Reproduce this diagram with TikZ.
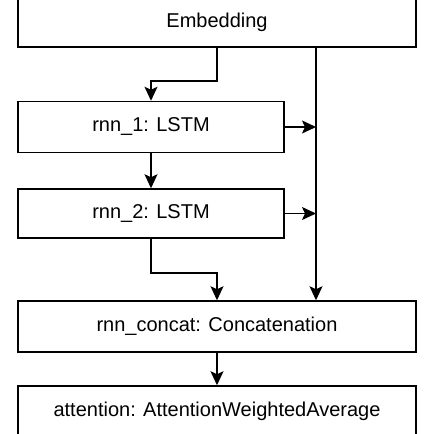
\documentclass[tikz,border=0pt]{standalone}
\usepackage{fontspec}
\setmainfont{Liberation Sans}
\usetikzlibrary{arrows.meta}

\tikzset{
  layer/.style={draw, rectangle, line width=1.5pt, inner sep=0pt, minimum height=50pt, font=\fontsize{20}{24}\selectfont},
  flow/.style={line width=1.5pt, -{Stealth[length=14pt, width=13pt, inset=3pt, fill=black]}}
}

\begin{document}
\begin{tikzpicture}[x=1pt, y=1pt]
  \useasboundingbox (0,0) rectangle (434,-434);
  \node[layer, minimum width=398pt] (emb) at (217,-22) {Embedding};
  \node[layer, minimum width=266pt, minimum height=51pt] (rnn1) at (151,-127) {rnn\_1: LSTM};
  \node[layer, minimum width=266pt, minimum height=49pt] (rnn2) at (151,-213.5) {rnn\_2: LSTM};
  \node[layer, minimum width=398pt, minimum height=51pt] (concat) at (217,-326.5) {rnn\_concat: Concatenation};
  \node[layer, minimum width=398pt] (att) at (217,-411) {attention: AttentionWeightedAverage};
  \coordinate (bus) at (316,0);
  \coordinate (b1) at (rnn1.east -| bus);
  \coordinate (b2) at (rnn2.east -| bus);
  \draw[flow] (emb.south) -- ++(0,-33) -| (rnn1.north);
  \draw[flow] (emb.south -| bus) -- (concat.north -| bus);
  \draw[flow] (rnn1.east) -- (b1);
  \draw[flow] (rnn1.south) -- (rnn2.north);
  \draw[flow] (rnn2.east) -- (b2);
  \draw[flow] (rnn2.south) -- ++(0,-34) -| (concat.north);
  \draw[flow] (concat.south) -- (att.north);
\end{tikzpicture}
\end{document}
